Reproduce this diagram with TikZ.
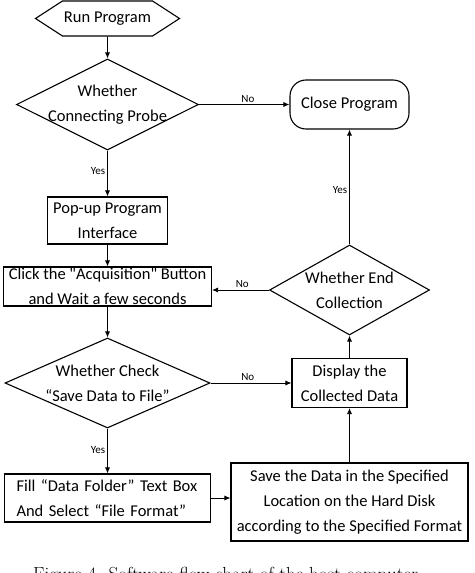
\documentclass[tikz,border=0pt]{standalone}
\usepackage{fontspec}
\newfontfamily\flowfont{Carlito}
\usetikzlibrary{arrows.meta, positioning, shapes.geometric, shapes.symbols}

\begin{document}
\begin{tikzpicture}[x=1pt, y=-1pt,
  font=\flowfont\fontsize{16.5}{25}\selectfont,
  term/.style={draw, line width=1.1pt, signal, signal to=east and west, signal pointer angle=66,
               minimum width=144pt, minimum height=35pt, inner sep=0pt},
  ends/.style={draw, line width=1.1pt, rounded corners=16pt, minimum width=119pt,
               minimum height=49pt, inner sep=0pt},
  proc/.style={draw, line width=1.1pt, inner sep=0pt, align=center},
  dec/.style={draw, line width=1.1pt, diamond, inner xsep=-40pt, inner ysep=0pt, align=center},
  a/.style={-{Latex[length=6pt, width=5pt]}, line width=0.8pt},
  lbl/.style={font=\flowfont\fontsize{11}{13}\selectfont, inner sep=2pt}
]
\useasboundingbox (0,0) rectangle (474,573);

% left column
\node[term] (run) at (107.5,18.5) {Run Program};
\node[dec, minimum width=182pt, minimum height=91pt] (probe) at (107.5,104.5) {Whether\\Connecting Probe};
\node[proc, minimum width=120pt, minimum height=47pt] (popup) at (107.5,220.5) {Pop-up Program\\Interface};
\node[proc, minimum width=208pt, minimum height=39pt] (click) at (107.5,286.5)
  {Click the "Acquisition" Button\\and Wait a few seconds};
\node[dec, minimum width=205pt, minimum height=90pt] (check) at (107.5,383)
  {Whether Check\\“Save Data to File”};
\node[proc, minimum width=206pt, minimum height=48pt, text width=182pt, inner xsep=12pt, align=left]
  (fill) at (107.5,498) {Fill “Data Folder” Text Box\\And Select “File Format”};

% right column
\node[ends] (close) at (349.5,104.5) {Close Program};
\node[dec, minimum width=160pt, minimum height=90pt] (endcol) at (349.5,290) {Whether End\\Collection};
\node[proc, minimum width=115pt, minimum height=49pt] (show) at (349.5,383) {Display the\\Collected Data};
\node[proc, minimum width=237pt, minimum height=78pt] (save) at (349.5,502)
  {Save the Data in the Specified\\Location on the Hard Disk\\according to the Specified Format};

% caption, cut off by the page edge as in the figure
\node[anchor=base west, font=\fontsize{18.9}{22}\selectfont, inner sep=0pt] (caption) at (33,580.5)
  {Figure 4. Software flow chart of the host computer};

% connectors
\draw[a] (run) -- (probe);
\draw[a] (probe) -- node[lbl, pos=0.45, left] {Yes} (popup);
\draw[a] (probe) -- node[lbl, pos=0.54, above] {No} (close);
\draw[a] (popup) -- (click);
\draw[a] (click) -- (check);
\draw[a] (check) -- node[lbl, pos=0.46, above] {No} (show);
\draw[a] (check) -- node[lbl, pos=0.48, left] {Yes} (fill);
\draw[a] (fill.east) -- (fill.east -| save.west);
\draw[a] (save) -- (show);
\draw[a] (show) -- (endcol);
\draw[a] (endcol) -- node[lbl, pos=0.47, left] {Yes} (close);
\draw[a] (endcol.west) -- node[lbl, pos=0.47, above] {No} (endcol.west -| click.east);
\end{tikzpicture}
\end{document}
